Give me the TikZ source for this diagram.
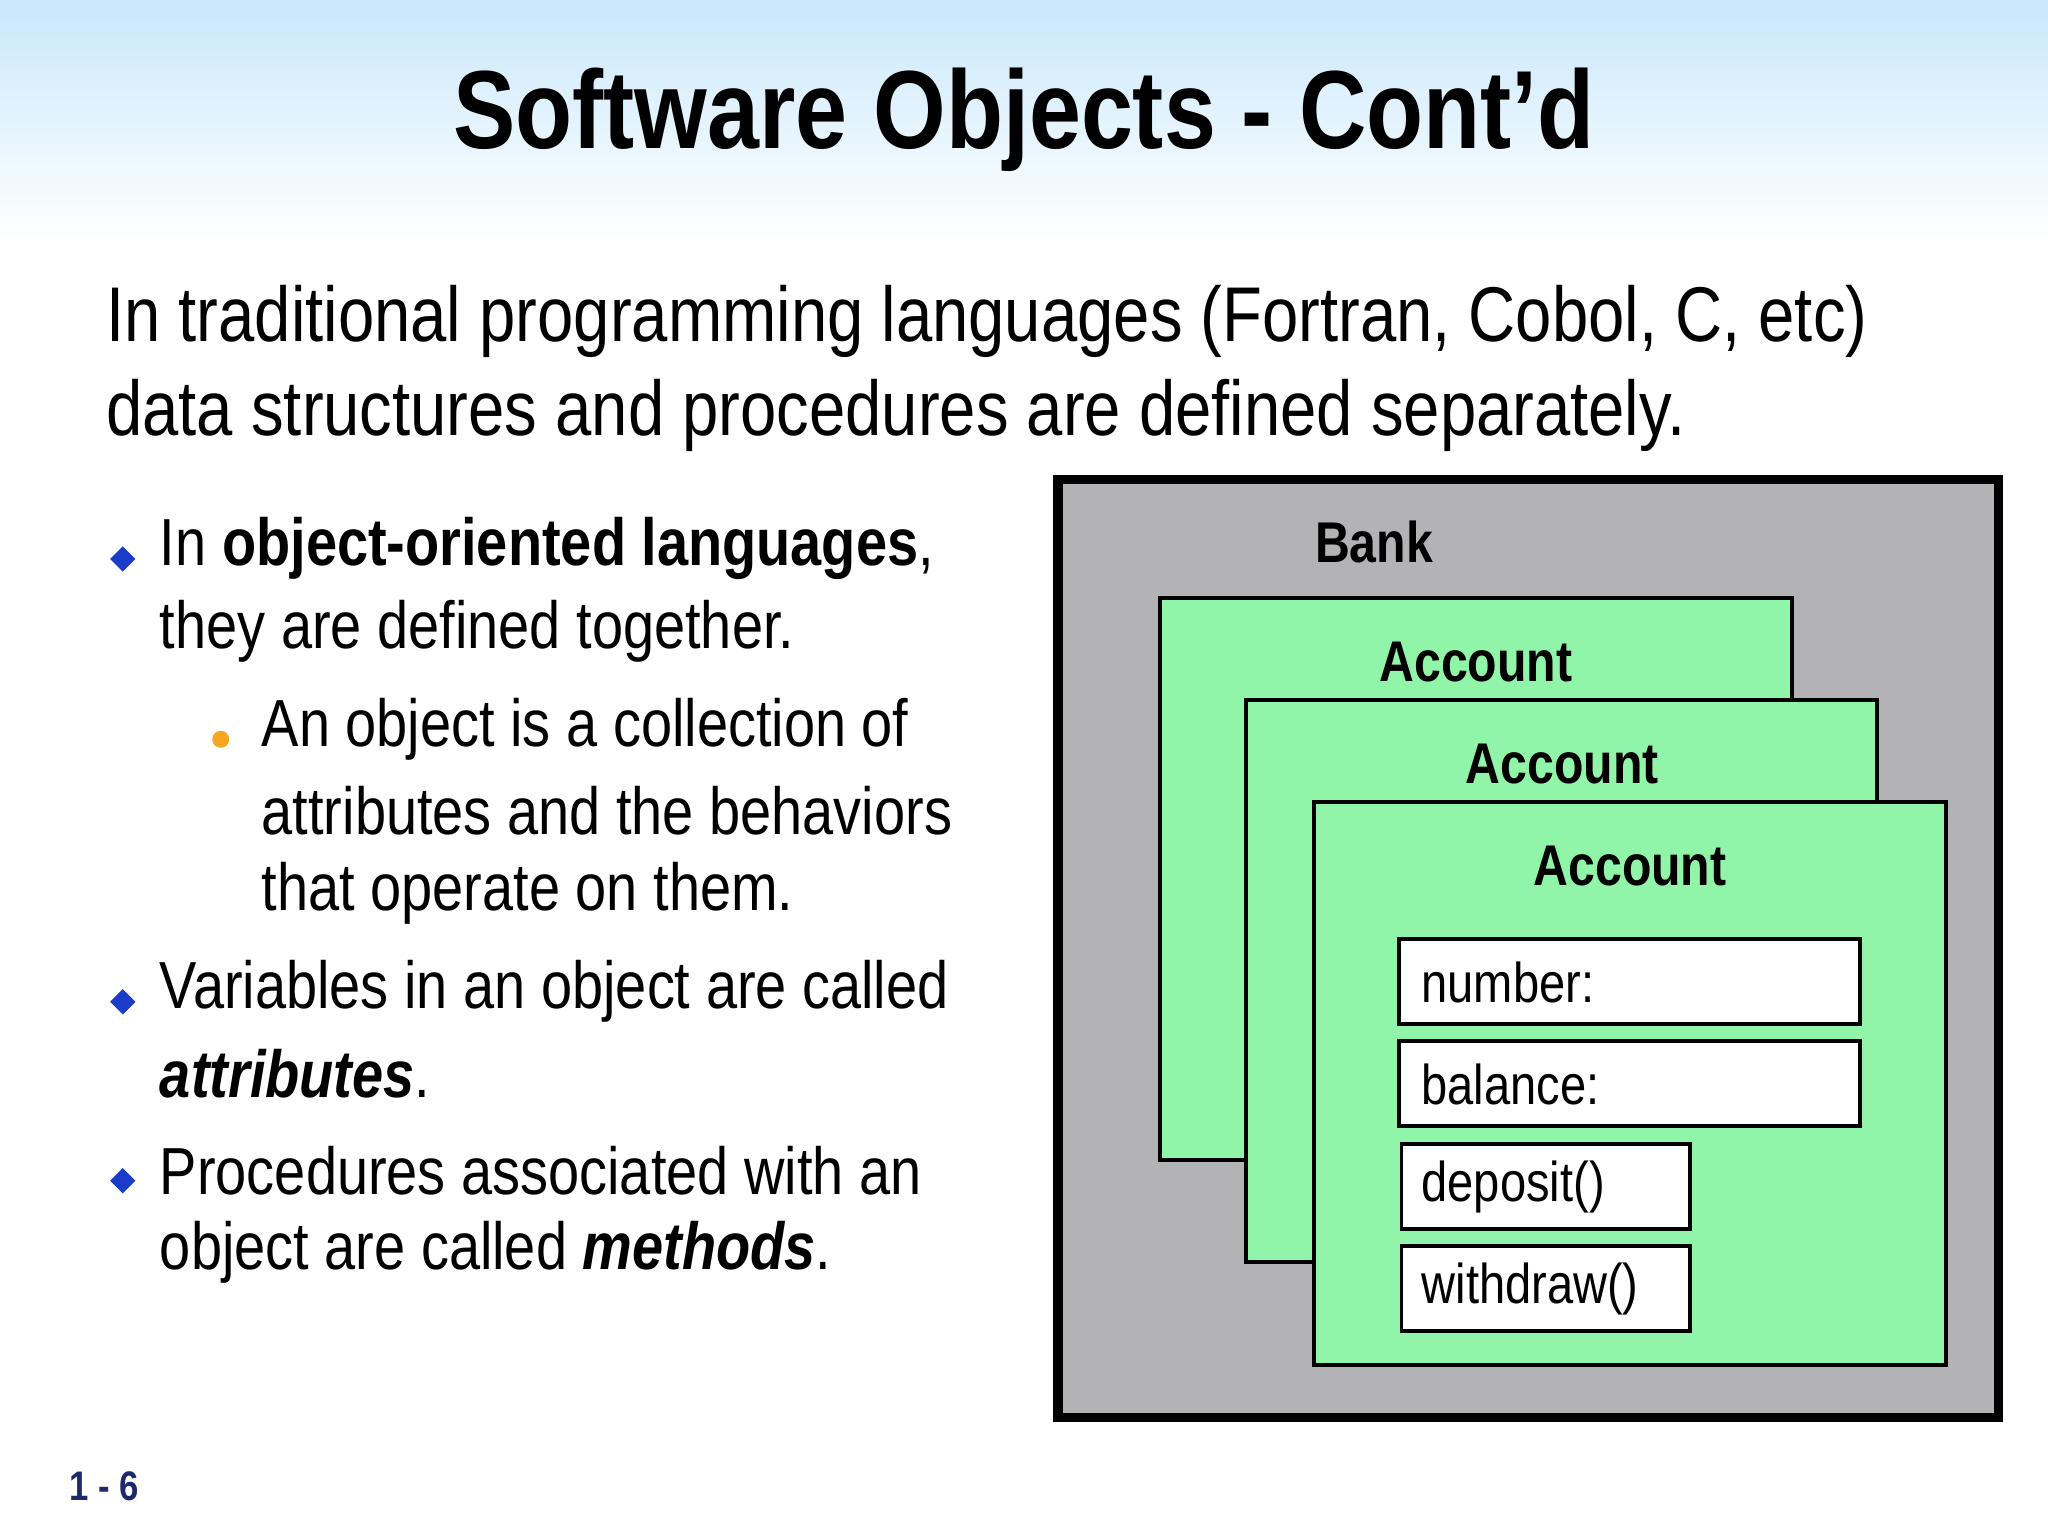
\documentclass[tikz,border=0pt]{standalone}
\usepackage{fontspec}
\usetikzlibrary{shapes.geometric}
\setmainfont{Liberation Sans}[FakeStretch=0.84]
\begin{document}
\begin{tikzpicture}[x=0.01cm,y=-0.01cm,
 acc/.style={draw=black,fill=accgreen,line width=0.8pt},
 fld/.style={draw=black,fill=white,line width=0.8pt},
 fldtxt/.style={anchor=west,font=\fontsize{12.2}{14}\selectfont},
 acctxt/.style={font=\fontsize{12.5}{14}\selectfont\bfseries},
 body/.style={anchor=west,font=\fontsize{14.5}{17}\selectfont},
 dia/.style={fill=diablue,diamond,inner sep=0pt,minimum size=0.2cm}]
\definecolor{accgreen}{HTML}{90F5A8}
\definecolor{bankgray}{HTML}{B3B2B4}
\definecolor{skyblue}{HTML}{C9E8FB}
\definecolor{diablue}{HTML}{1A3CC8}
\definecolor{dotorange}{HTML}{F5A623}
\definecolor{numblue}{HTML}{1C2A6B}
\useasboundingbox (0,0) rectangle (1568,1176);
\shade[top color=skyblue,bottom color=white] (0,0) rectangle (1568,185);
\node (title) at (784,92) {\fontsize{24.2}{28}\selectfont\bfseries Software Objects - Cont’d};
\node[anchor=west,align=left,font=\fontsize{16.9}{20.5}\selectfont] (intro) at (69,282)
 {In traditional programming languages (Fortran, Cobol, C, etc)\\data structures and procedures are defined separately.};
\node[dia] (d1) at (94,428) {};
\node[body] (b1a) at (110,420) {In \textbf{object-oriented languages},};
\node[body] (b1b) at (110,483) {they are defined together.};
\node[circle,fill=dotorange,inner sep=0pt,minimum size=0.13cm] (o1) at (169,566) {};
\node[body] (s1) at (188,558) {An object is a collection of};
\node[body] (s2) at (188,621) {attributes and the behaviors};
\node[body] (s3) at (188,684) {that operate on them.};
\node[dia] (d2) at (94,767) {};
\node[body] (b2a) at (110,759) {Variables in an object are called};
\node[body] (b2b) at (110,822) {\textbf{\itshape attributes}.};
\node[dia] (d3) at (94,904) {};
\node[body] (b3a) at (110,896) {Procedures associated with an};
\node[body] (b3b) at (110,959) {object are called \textbf{\itshape methods}.};
\node[text=numblue,font=\fontsize{9}{10}\selectfont\bfseries] (pg) at (80,1138) {1 - 6};
\draw[fill=bankgray,line width=2pt] (810,367) rectangle (1530,1085);
\node[acctxt] (bank) at (1052,415) {Bank};
\draw[acc] (888,458) rectangle (1372,888);
\node[acctxt] (a1) at (1130,507) {Account};
\draw[acc] (954,536) rectangle (1437,966);
\node[acctxt] (a2) at (1196,585) {Account};
\draw[acc] (1006,614) rectangle (1490,1045);
\node[acctxt] (a3) at (1248,663) {Account};
\draw[fld] (1071,719) rectangle (1424,784);
\node[fldtxt] (n) at (1076,752) {number:};
\draw[fld] (1071,797) rectangle (1424,862);
\node[fldtxt] (bal) at (1076,830) {balance:};
\draw[fld] (1073,876) rectangle (1294,941);
\node[fldtxt] (dep) at (1076,909) {deposit()};
\draw[fld] (1073,954) rectangle (1294,1019);
\node[fldtxt] (wd) at (1076,987) {withdraw()};
\end{tikzpicture}
\end{document}
